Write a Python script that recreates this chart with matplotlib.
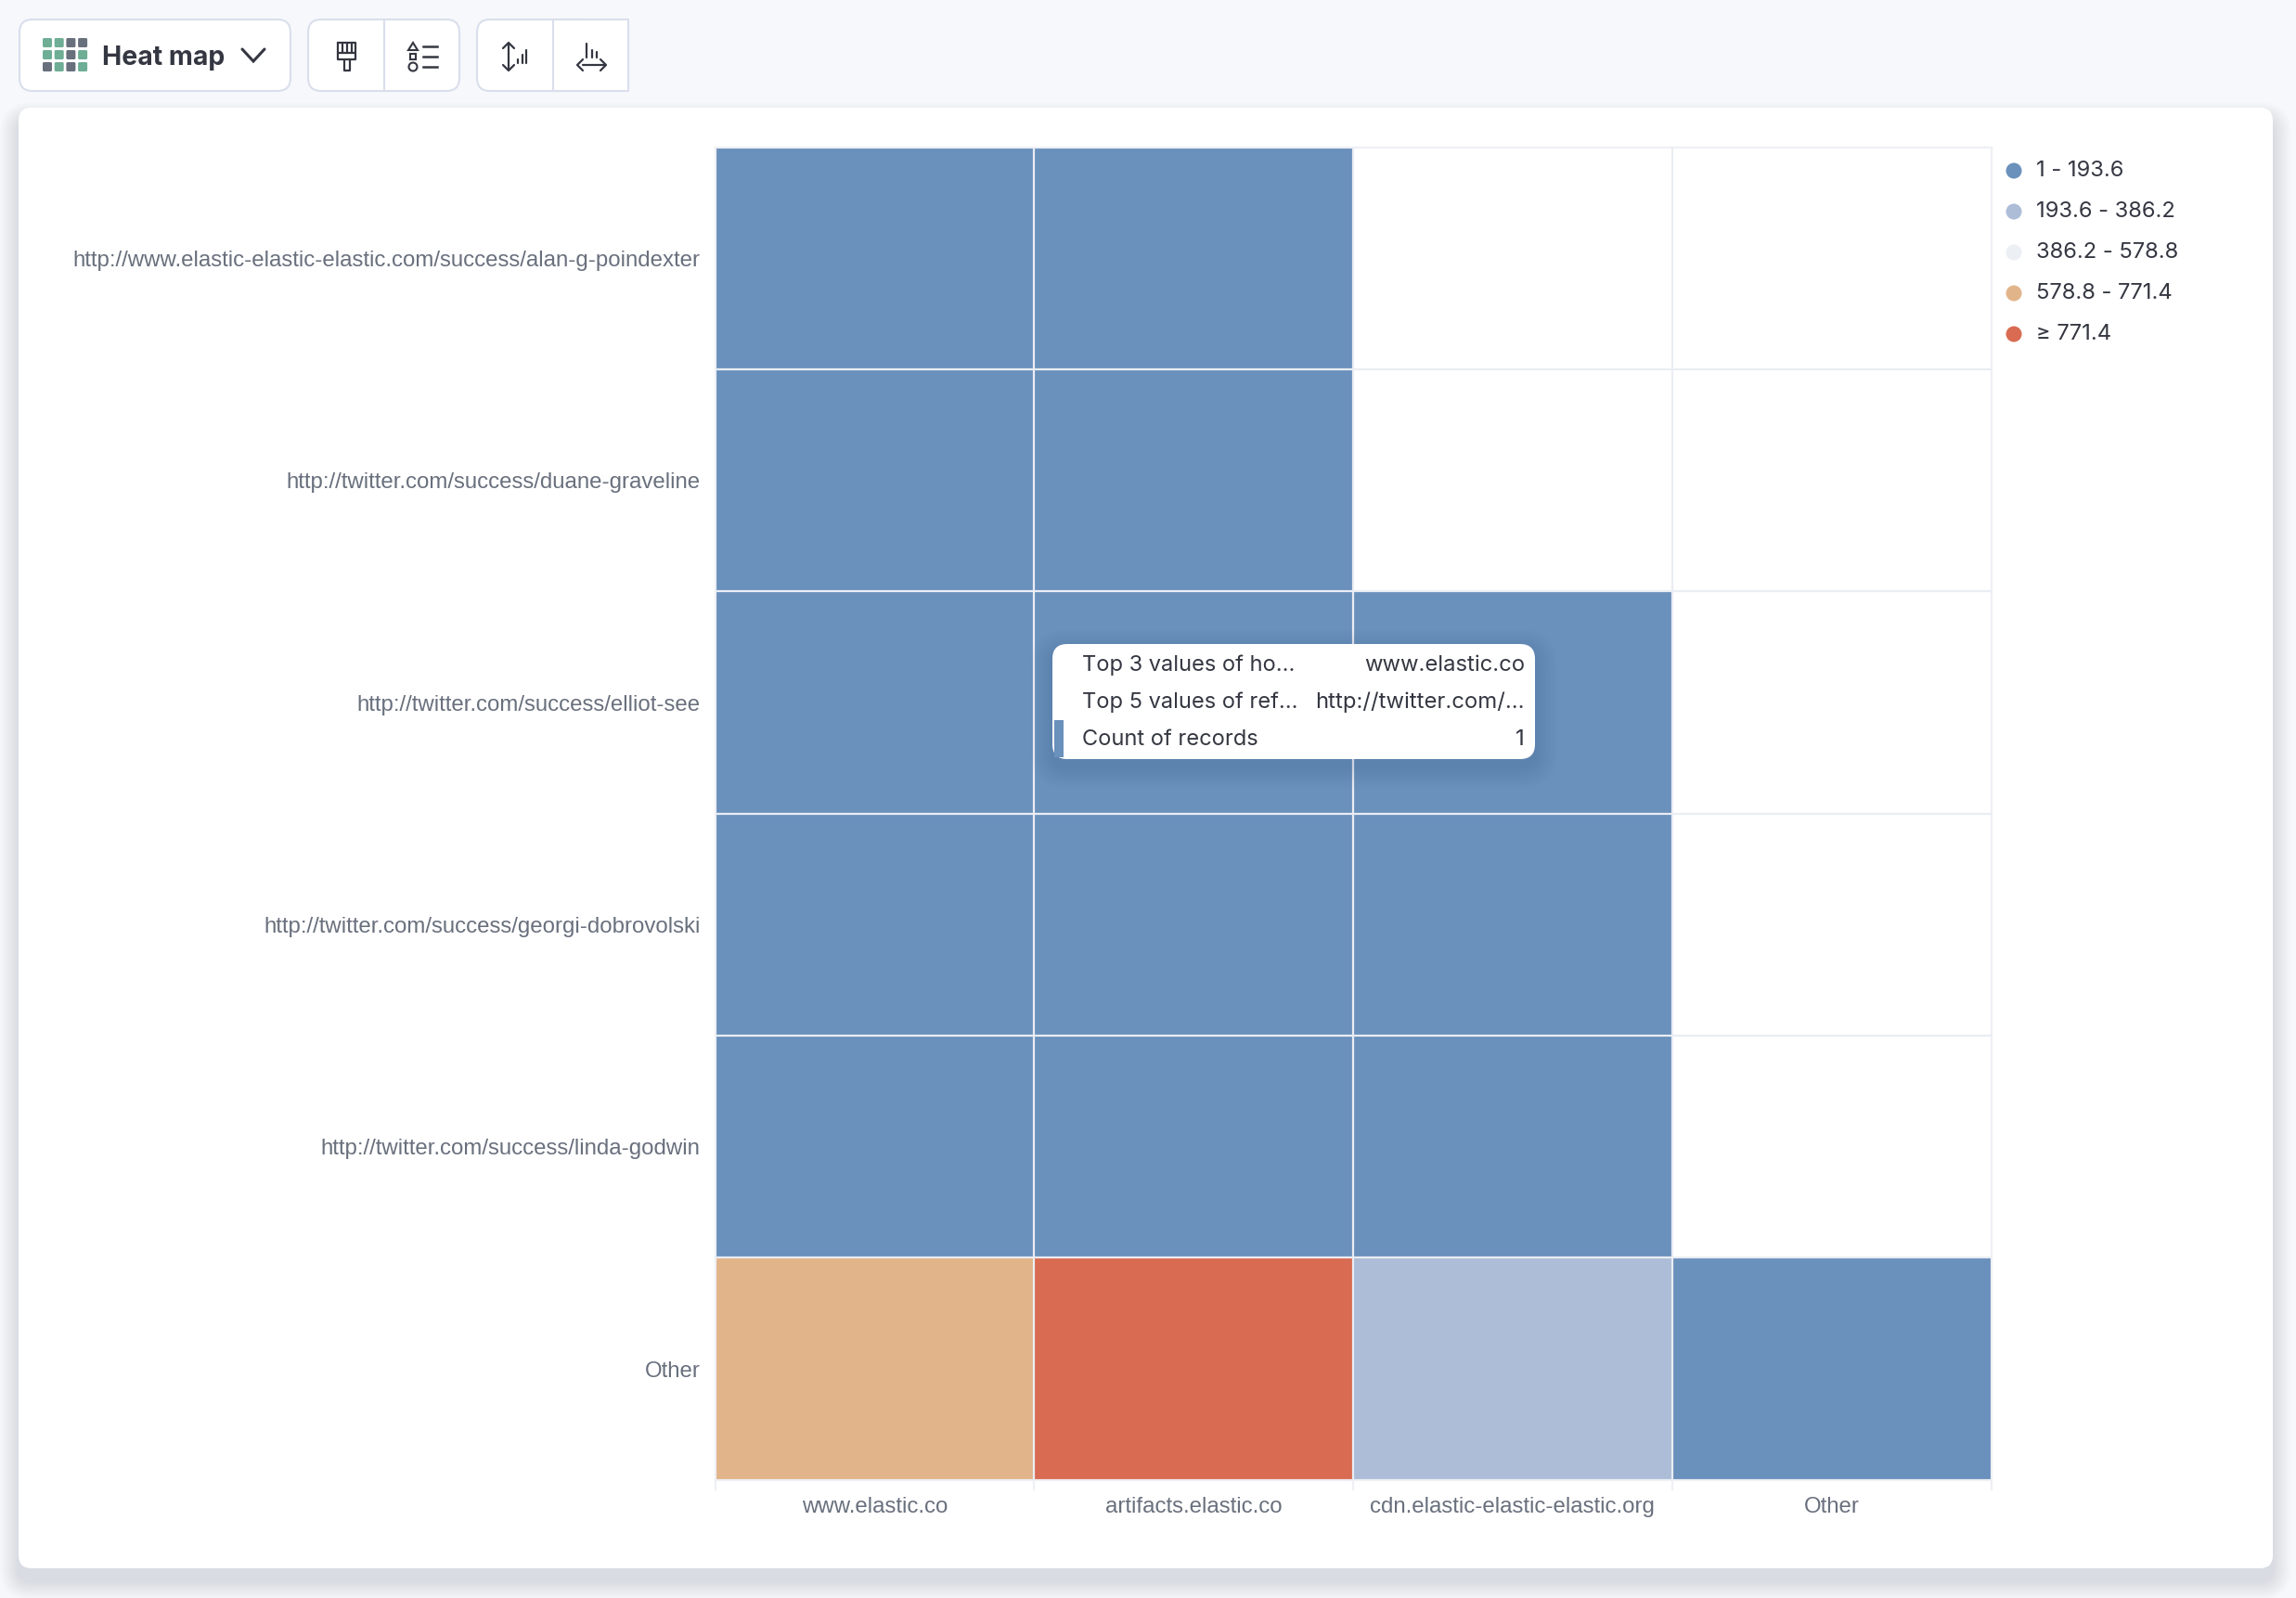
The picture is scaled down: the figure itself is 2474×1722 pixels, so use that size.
import numpy as np
import matplotlib
matplotlib.use("Agg")
import matplotlib.pyplot as plt
from matplotlib.colors import ListedColormap, BoundaryNorm
from matplotlib.patches import FancyBboxPatch, Rectangle, Polygon, Circle

# ---------- data ----------
x_labels = ["www.elastic.co", "artifacts.elastic.co", "cdn.elastic-elastic-elastic.org", "Other"]
y_labels = ["http://www.elastic-elastic-elastic.com/success/alan-g-poindexter",
            "http://twitter.com/success/duane-graveline",
            "http://twitter.com/success/elliot-see",
            "http://twitter.com/success/georgi-dobrovolski",
            "http://twitter.com/success/linda-godwin",
            "Other"]
row_alan = [1, 1, np.nan, np.nan]
row_duane = [1, 1, np.nan, np.nan]
row_elliot = [1, 1, 1, np.nan]
row_georgi = [1, 1, 1, np.nan]
row_linda = [1, 1, 1, np.nan]
row_other = [680, 964, 290, 60]
bounds = [1, 193.6, 386.2, 578.8, 771.4, 964]
legend_labels = ["1 - 193.6", "193.6 - 386.2", "386.2 - 578.8", "578.8 - 771.4", "≥ 771.4"]
legend_colors = ["#6a90bc", "#adbdd8", "#eceff4", "#e2b48a", "#d86b52"]
tooltip_names = ["Top 3 values of ho...", "Top 5 values of ref...", "Count of records"]
tooltip_values = ["www.elastic.co", "http://twitter.com/...", "1"]

W, H = 2474, 1722
SANS = ["Inter", "DejaVu Sans"]
AXF = ["Liberation Sans", "DejaVu Sans"]
INK = "#343741"
GREY = "#69707d"
BORDER = "#d9dfeb"

fig = plt.figure(figsize=(W / 100, H / 100), dpi=100, facecolor="#f6f8fc")


def px_axes(z):
    a = fig.add_axes([0, 0, 1, 1], zorder=z)
    a.set_xlim(0, W)
    a.set_ylim(H, 0)
    a.axis("off")
    a.patch.set_alpha(0)
    return a


def rrect(a, x0, y0, x1, y1, r, **kw):
    p = FancyBboxPatch((x0 + r, y0 + r), x1 - x0 - 2 * r, y1 - y0 - 2 * r,
                       boxstyle=f"round,pad={r},rounding_size={r}", mutation_aspect=1, **kw)
    a.add_patch(p)
    return p


def shadow(a, x0, y0, x1, y1, r, dy, spread, peak):
    n = 14
    for i in range(n):
        g = spread * (1 - i / n)
        rrect(a, x0 - g, y0 - g + dy, x1 + g, y1 + g + dy, r + g,
              fc="#3a4a6a", ec="none", alpha=peak / n)


bg = px_axes(0)

# panel
shadow(bg, 20, 116, 2449, 1690, 14, 14, 20, 0.13)
rrect(bg, 20, 116, 2449, 1690, 14, fc="white", ec="none")

# toolbar buttons
LW = 1.5
rrect(bg, 21, 21, 313, 98, 14, fc="white", ec=BORDER, lw=LW)
rrect(bg, 332, 21, 495, 98, 14, fc="white", ec=BORDER, lw=LW)
bg.plot([413.5, 413.5], [21, 98], color=BORDER, lw=LW)
rrect(bg, 514, 21, 640, 98, 14, fc="white", ec=BORDER, lw=LW)
bg.add_patch(Rectangle((600, 20), 78, 79, fc="white", ec="none"))
bg.plot([600, 677, 677, 600], [21, 21, 98, 98], color=BORDER, lw=LW)
bg.plot([596, 596], [21, 98], color=BORDER, lw=LW)

# heat-map glyph in the toolbar
glyph_cols = [["#6dae95", "#6dae95", "#69707d", "#69707d"],
              ["#6dae95", "#6dae95", "#69707d", "#6dae95"],
              ["#69707d", "#6dae95", "#69707d", "#6dae95"]]
for r, row in enumerate(glyph_cols):
    for c, col in enumerate(row):
        rrect(bg, 46 + c * 12.7, 41 + r * 13, 56 + c * 12.7, 51 + r * 13, 1.5, fc=col, ec="none")
bg.text(110, 62, "Heat map", family=SANS, fontsize=20.5, fontweight="bold", color=INK, va="center", ha="left")
bg.plot([261, 273, 285], [53, 66, 53], color=INK, lw=2.2, solid_capstyle="round", solid_joinstyle="miter")

# brush icon
ic = dict(color=INK, lw=1.6, solid_capstyle="round")
bg.plot([364, 383, 383, 364, 364], [46, 46, 64, 64, 46], **ic)
for xx in (369, 374, 379):
    bg.plot([xx, xx], [46, 57], **ic)
bg.plot([364, 383], [57, 57], **ic)
bg.plot([371, 371, 377, 377], [64, 76, 76, 64], **ic)
# list icon
bg.add_patch(Polygon([[445, 46], [440, 54], [450, 54]], fc="none", ec=INK, lw=1.5))
bg.add_patch(Rectangle((441.5, 57.5), 6, 6.5, fc="none", ec=INK, lw=1.5))
bg.add_patch(Circle((445, 72), 4.5, fc="none", ec=INK, lw=1.5))
for yy in (50, 61, 72):
    bg.plot([456, 471], [yy, yy], color=INK, lw=1.8)
# y-axis icon
bg.plot([548, 548], [47, 75], **ic)
bg.plot([542, 548, 554], [52, 46, 52], **ic)
bg.plot([542, 548, 554], [70, 76, 70], **ic)
for xx, y0 in ((558, 64), (563, 59), (567, 54)):
    bg.plot([xx, xx], [y0, 68], **ic)
# x-axis icon
bg.plot([628, 652], [70, 70], **ic)
bg.plot([628, 622, 628], [64, 70, 76], **ic)
bg.plot([647, 653, 647], [64, 70, 76], **ic)
for xx, y0 in ((632, 47), (638, 54), (643, 56)):
    bg.plot([xx, xx], [y0, 62], **ic)

# ---------- heat map ----------
PX0, PX1, PY0, PY1 = 770.5, 2145.5, 158.8, 1594.8
ax = fig.add_axes([PX0 / W, 1 - PY1 / H, (PX1 - PX0) / W, (PY1 - PY0) / H], zorder=1)
values = np.array([row_alan, row_duane, row_elliot, row_georgi, row_linda, row_other], dtype=float)
cmap = ListedColormap(legend_colors)
norm = BoundaryNorm(bounds, cmap.N)
ax.pcolormesh(np.arange(len(x_labels) + 1), np.arange(len(y_labels) + 1),
              np.ma.masked_invalid(values), cmap=cmap, norm=norm, edgecolors="none", antialiased=False)
ax.set_xlim(0, len(x_labels))
ax.set_ylim(len(y_labels), 0)
ax.set_facecolor("white")
# grid between cells
for i in range(1, len(x_labels)):
    ax.axvline(i, color="#eaedf3", lw=1.6, zorder=3)
for j in range(1, len(y_labels)):
    ax.axhline(j, color="#eaedf3", lw=1.6, zorder=3)
for s in ax.spines.values():
    s.set_color("#eef0f4")
    s.set_linewidth(1.6)
ax.set_xticks(np.arange(len(x_labels)) + 0.5)
ax.set_xticklabels(x_labels, family=AXF, fontsize=17.3, color=GREY)
ax.set_yticks(np.arange(len(y_labels)) + 0.5)
ax.set_yticklabels(y_labels, family=AXF, fontsize=17.3, color=GREY)
ax.tick_params(axis="y", length=0, pad=11.5)
ax.tick_params(axis="x", length=0, pad=13)
for lab in ax.get_yticklabels():
    lab.set_y(lab.get_position()[1])
# tick stubs under the plot at the cell edges
for i in range(len(x_labels) + 1):
    ax.plot([i, i], [6, 6.042], color="#eef0f4", lw=1.6, clip_on=False, zorder=0)

# ---------- overlay: legend and tooltip ----------
ov = px_axes(2)
for i, (lab, col) in enumerate(zip(legend_labels, legend_colors)):
    yy = 184 + i * 44
    ov.scatter([2170], [yy], s=150, color=col, edgecolors="none")
    ov.text(2194, yy - 0.5, lab, family=SANS, fontsize=17.1, color=INK, va="center", ha="left")

shadow(ov, 1134, 694, 1654, 818, 16, 8, 24, 0.13)
rrect(ov, 1134, 694, 1654, 818, 16, fc="white", ec="none")
ov.add_patch(Rectangle((1136, 776), 10, 40, fc=legend_colors[0], ec="none"))
for i, (n, v) in enumerate(zip(tooltip_names, tooltip_values)):
    yy = 717 + i * 40
    ov.text(1166, yy, n, family=SANS, fontsize=17, color=INK, va="center", ha="left")
    ov.text(1643, yy, v, family=SANS, fontsize=17.15, color=INK, va="center", ha="right")

fig.savefig("out.png", dpi=100, facecolor=fig.get_facecolor())
